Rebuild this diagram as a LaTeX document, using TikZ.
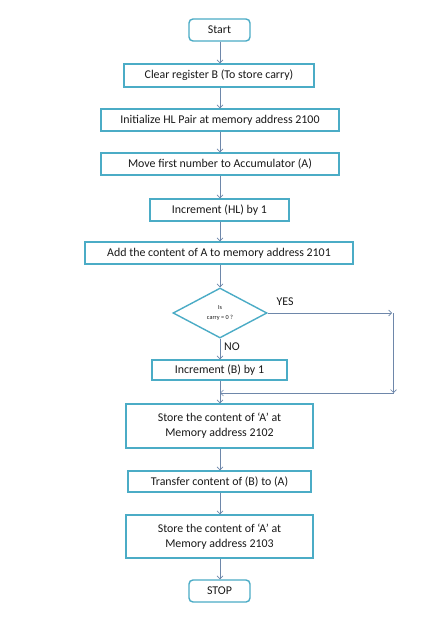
\documentclass[tikz,border=0pt]{standalone}
\usepackage{fontspec}
\setmainfont{Carlito}
\usetikzlibrary{arrows.meta,shapes.geometric}
\definecolor{boxline}{RGB}{75,172,198}
\definecolor{arrowc}{RGB}{110,135,170}
\definecolor{txt}{RGB}{25,25,25}
\tikzset{
  procbox/.style={draw=boxline,line width=1.4pt,fill=white,inner sep=0pt,align=center,text=txt,font=\fontsize{11.9}{15}\selectfont},
  termbox/.style={procbox,rounded corners=4pt},
  decbox/.style={draw=boxline,line width=1.4pt,diamond,aspect=1.88,inner sep=0pt,minimum width=94pt,minimum height=50pt,align=center,text=txt,font=\fontsize{6.2}{10}\selectfont},
  flow/.style={draw=arrowc,line width=0.6pt,-{Straight Barb[length=3pt,width=6pt]}},
  lbl/.style={text=txt,font=\fontsize{11.9}{14}\selectfont,inner sep=0pt}
}
\begin{document}
\begin{tikzpicture}[x=1pt,y=-1pt]
\useasboundingbox[fill=white] (0,0) rectangle (442,639);
\node[termbox,minimum width=61pt,minimum height=22pt] (start) at (219.5,30) {Start};
\node[procbox,minimum width=190pt,minimum height=23pt] (clear) at (219,75.5) {Clear register B (To store carry)};
\node[procbox,minimum width=238pt,minimum height=22pt] (init) at (220,120) {Initialize HL Pair at memory address 2100};
\node[procbox,minimum width=238pt,minimum height=22pt] (move) at (220,164) {Move first number to Accumulator (A)};
\node[procbox,minimum width=139pt,minimum height=22pt] (inchl) at (219.5,210) {Increment (HL) by 1};
\node[procbox,minimum width=268pt,minimum height=22pt] (add) at (219,253) {Add the content of A to memory address 2101};
\node[decbox] (dec) at (220,313) {Is\\carry = 0 ?};
\node[procbox,minimum width=135pt,minimum height=20pt] (incb) at (219.5,370) {Increment (B) by 1};
\node[procbox,minimum width=187pt,minimum height=44pt] (st1) at (219.5,426) {Store the content of ‘A’ at\\Memory address 2102};
\node[procbox,minimum width=183pt,minimum height=21pt] (tr) at (219.5,481.5) {Transfer content of (B) to (A)};
\node[procbox,minimum width=187pt,minimum height=43pt] (st2) at (219.5,536.5) {Store the content of ‘A’ at\\Memory address 2103};
\node[termbox,minimum width=61pt,minimum height=22pt] (stop) at (219.5,591) {STOP};
\node[lbl] (yes) at (285,302) {YES};
\node[lbl] (no) at (232,347) {NO};
\coordinate (r1) at (392,313);
\coordinate (r2) at (393.5,313);
\coordinate (r3) at (393.5,393);
\coordinate (j) at (220,393);
\draw[flow] (start.south -| 220,0) -- (clear.north -| 220,0);
\draw[flow] (clear.south -| 220,0) -- (init.north -| 220,0);
\draw[flow] (init) -- (move);
\draw[flow] (move.south -| 220,0) -- (inchl.north -| 220,0);
\draw[flow] (inchl.south -| 220,0) -- (add.north -| 220,0);
\draw[flow] (add.south -| 220,0) -- (dec.north);
\draw[flow] (dec.east) -- (r1);
\draw[flow] (r2) -- (r3);
\draw[flow] (r3) -- (j);
\draw[flow] (dec.south) -- (incb.north -| 220,0);
\draw[flow] (incb.south -| 220,0) -- (st1.north -| 220,0);
\draw[flow] (st1.south -| 220,0) -- (tr.north -| 220,0);
\draw[flow] (tr.south -| 220,0) -- (st2.north -| 220,0);
\draw[flow] (st2.south -| 220,0) -- (stop.north -| 220,0);
\end{tikzpicture}
\end{document}
